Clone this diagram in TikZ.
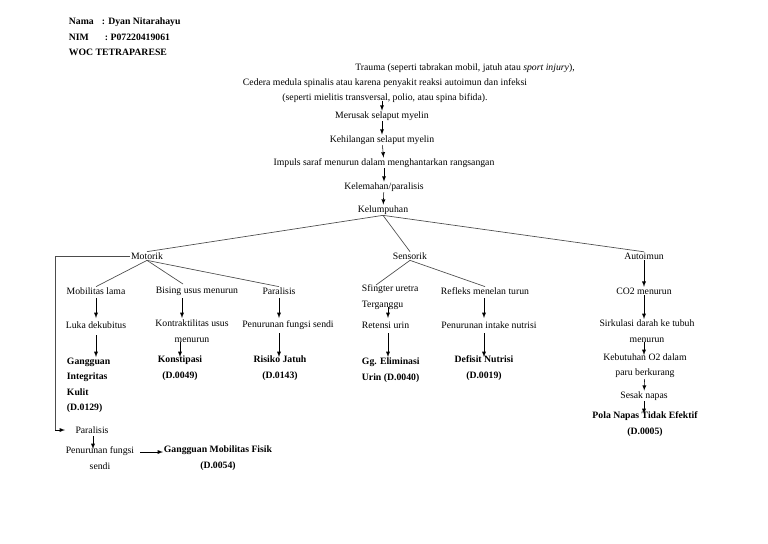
\documentclass[tikz,border=0pt]{standalone}
\usepackage{fontspec}
\setmainfont{Liberation Serif}
\begin{document}
\begin{tikzpicture}[x=0.75pt,y=-0.75pt,
  t/.style={inner sep=0.5pt,font=\fontsize{7.3}{11.5}\selectfont,align=center},
  b/.style={t,font=\fontsize{7.3}{11.5}\selectfont\bfseries},
  ar/.style={-latex,black,line width=0.4pt},
  ln/.style={black!70,line width=0.5pt}]
\fill[white] (0,0) rectangle (768,543);
\node[b,anchor=west,align=left] (hdr) at (68,37) {Nama\hspace{6pt}: Dyan Nitarahayu\\NIM\hspace{12pt}: P07220419061\\WOC TETRAPARESE};
\node[t] (tr) at (385,83) {\hspace*{120pt}Trauma (seperti tabrakan mobil, jatuh atau \textit{sport injury}),\\Cedera medula spinalis atau karena penyakit reaksi autoimun dan infeksi\\(seperti mielitis transversal, polio, atau spina bifida).};
\node[t] (m1) at (382,116) {Merusak selaput myelin};
\node[t] (m2) at (382,140) {Kehilangan selaput myelin};
\node[t] (m3) at (384,163) {Impuls saraf menurun dalam menghantarkan rangsangan};
\node[t] (m4) at (384,187) {Kelemahan/paralisis};
\node[t] (m5) at (383,210) {Kelumpuhan};
\draw[ar] (382,101) -- (m1);
\draw[ar] (m1) -- (m2);
\draw[ar] (m2) -- (m3);
\draw[ar] (m3) -- (m4);
\draw[ar] (m4) -- (m5);
\node[t] (mo) at (147,256) {Motorik};
\node[t] (se) at (410,256) {Sensorik};
\node[t] (au) at (644,256) {Autoimun};
\draw[ln] (m5.south) -- (mo.north);
\draw[ln] (m5.south) -- (se.north);
\draw[ln] (m5.south) -- (au.north);
% Motorik
\node[t] (a1) at (96,291) {Mobilitas lama};
\node[t] (b1) at (197,291) {Bising usus menurun};
\node[t] (c1) at (279,291) {Paralisis};
\draw[ln] (mo.south) -- (a1.north);
\draw[ln] (mo.south) -- (183,284);
\draw[ln] (mo.south) -- (c1.north);
\node[t] (a2) at (96,325) {Luka dekubitus};
\node[t] (b2) at (192,331) {Kontraktilitas usus\\menurun};
\node[t] (c2) at (288,325) {Penurunan fungsi sendi};
\node[b,anchor=north west,align=left] (a3) at (66,357) {Gangguan\\Integritas\\Kulit\\(D.0129)};
\node[b] (b3) at (180,368) {Konstipasi\\(D.0049)};
\node[b] (c3) at (280,368) {Risiko Jatuh\\(D.0143)};
\draw[ar] (96,298) -- (96,318);
\draw[ar] (96,335) -- (96,357);
\draw[ar] (182,298) -- (182,318);
\draw[ar] (180,342) -- (180,357);
\draw[ar] (279,298) -- (279,318);
\draw[ar] (279,333) -- (279,357);
% Sensorik
\node[t,anchor=west,align=left] (d1) at (361,297) {Sfingter uretra\\Terganggu};
\node[t] (e1) at (485,291) {Refleks menelan turun};
\draw[ln] (se.south) -- (376,285);
\draw[ln] (se.south) -- (e1.north);
\node[t,anchor=west] (d2) at (361,325) {Retensi urin};
\node[t] (e2) at (489,325) {Penurunan intake nutrisi};
\node[b,anchor=north west,align=left] (d3) at (361,357) {Gg. Eliminasi\\Urin (D.0040)};
\node[b] (e3) at (484,368) {Defisit Nutrisi\\(D.0019)};
\draw[ar] (388,307) -- (388,318);
\draw[ar] (388,333) -- (388,357);
\draw[ar] (484,298) -- (484,318);
\draw[ar] (484,333) -- (484,357);
% Autoimun
\node[t] (f1) at (644,291) {CO2 menurun};
\node[t] (f2) at (647,331) {Sirkulasi darah ke tubuh\\menurun};
\node[t] (f3) at (645,366) {Kebutuhan O2 dalam\\paru berkurang};
\node[t] (f4) at (644,396) {Sesak napas};
\node[b] (f5) at (645,424) {Pola Napas Tidak Efektif\\(D.0005)};
\draw[ar] (au) -- (f1);
\draw[ar] (f1) -- (644,319);
\draw[ar] (644,342) -- (644,355);
\draw[ar] (f3) -- (f4);
\draw[ar] (f4) -- (644,414);
% Bottom
\node[t] (g1) at (92,430) {Paralisis};
\node[t] (g2) at (100,458) {Penurunan fungsi\\sendi};
\node[b] (g3) at (218,458) {Gangguan Mobilitas Fisik\\(D.0054)};
\coordinate (c0) at (55,256);
\coordinate (c00) at (55,430);
\draw[ln] (mo.west) -- (c0) -- (c00);
\draw[ar] (c00) -- (65,430);
\draw[ar] (93,436) -- (93,449);
\draw[ar] (140,452) -- (163,452);
\end{tikzpicture}
\end{document}
